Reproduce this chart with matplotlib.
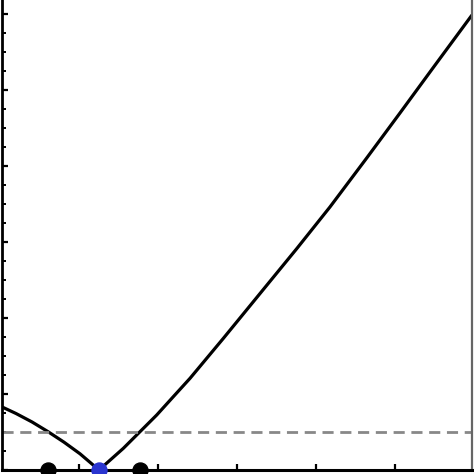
import matplotlib
matplotlib.use("Agg")
import matplotlib.pyplot as plt
from matplotlib.ticker import MultipleLocator

# curve (left and right branches of the V)
left_x = [0.0, 0.203, 0.405, 0.608, 0.810, 1.013, 1.253]
left_y = [0.842, 0.743, 0.632, 0.504, 0.366, 0.213, 0.0]

right_x = [1.253, 1.561, 1.772, 1.984, 2.194, 2.405, 2.616, 2.827, 3.038,
           3.333, 3.756, 4.177, 4.642, 5.063, 5.485, 5.975]
right_y = [0.0, 0.285, 0.504, 0.724, 0.965, 1.206, 1.469, 1.732, 2.0,
           2.375, 2.912, 3.461, 4.105, 4.697, 5.296, 5.987]

threshold = 0.5
cross_x = [0.608, 1.772]
min_x = 1.253

fig = plt.figure(figsize=(4.74, 4.74), dpi=100)
ax = fig.add_axes([2/474, 4/474, 470/474, 470/474])

ax.plot(left_x, left_y, color="black", lw=2.3, solid_capstyle="butt")
ax.plot(right_x, right_y, color="black", lw=2.3, solid_capstyle="butt")
ax.axhline(threshold, color="#888888", lw=2.0, dashes=(4, 2.4))

ax.plot(cross_x, [0, 0], "o", color="black", ms=10.8, clip_on=False, zorder=5)
ax.plot([min_x], [0], "o", color="#2a35d0", ms=10.8, clip_on=False, zorder=6)

ax.set_xlim(0.025, 5.975)
ax.set_ylim(0, 470/76)

ax.xaxis.set_major_locator(MultipleLocator(1))
ax.yaxis.set_major_locator(MultipleLocator(1))
ax.yaxis.set_minor_locator(MultipleLocator(0.25))
ax.tick_params(axis="both", which="both", direction="in",
               labelbottom=False, labelleft=False)
ax.tick_params(axis="y", which="major", length=4.5, width=1.6)
ax.tick_params(axis="y", which="minor", length=3, width=1.4)
ax.tick_params(axis="x", which="major", length=4, width=1.6)

ax.spines["top"].set_visible(False)
ax.spines["left"].set_linewidth(2.0)
ax.spines["bottom"].set_linewidth(2.2)
ax.spines["right"].set_color("#666666")
ax.spines["right"].set_linewidth(1.6)

fig.savefig("out.png", dpi=100)
